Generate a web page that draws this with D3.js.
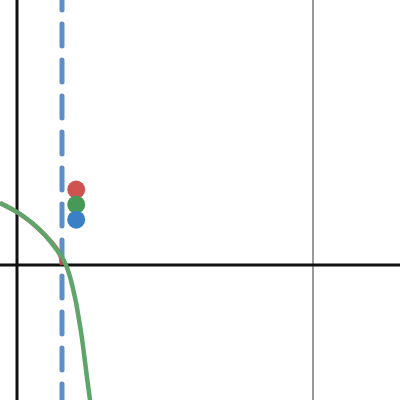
<!DOCTYPE html>
<html lang="en">
<head>
  <meta charset="UTF-8" />
  <title>Curve near asymptote</title>
  <script src="https://d3js.org/d3.v7.min.js"></script>
  <style>
    body { margin:0; padding:0; background:#fff; }
    svg { display:block; }
  </style>
</head>
<body>
  <svg width="400" height="400"></svg>
  <script>
  // green curve (math units)
  const greenX = [-0.574, 0.101, 0.777, 1.115, 1.318, 1.52, 1.655, 1.791, 1.902, 2.01, 2.095, 2.179, 2.247, 2.375, 2.466, 2.5];
  const greenY = [2.095, 1.723, 1.182, 0.811, 0.541, 0.27, 0, -0.405, -0.845, -1.351, -1.858, -2.365, -2.872, -3.885, -4.561, -4.83];

  // red curve, ends on the x axis at the asymptote
  const redX = [-0.574, 0.101, 0.777, 1.115, 1.284, 1.402, 1.477, 1.51, 1.52];
  const redY = [2.095, 1.723, 1.182, 0.828, 0.625, 0.439, 0.27, 0.135, 0];

  const asymptoteX = 1.52;
  const gridX = 10;

  const dotX = [2.0, 2.0, 2.0];
  const dotY = [2.55, 2.04, 1.53];
  const dotColors = ['#cf5350', '#479a56', '#3b7fc4'];

  const W = 400, H = 400;
  const svg = d3.select('svg');

  const x = d3.scaleLinear().domain([-0.5743, 12.939]).range([0, W]);
  const y = d3.scaleLinear().domain([-4.561, 8.953]).range([H, 0]);

  // gray grid line
  svg.append('line')
    .attr('x1', x(gridX)).attr('x2', x(gridX))
    .attr('y1', 0).attr('y2', H)
    .attr('stroke', '#9a9a9a').attr('stroke-width', 2);

  // axes
  svg.append('line')
    .attr('x1', x(0)).attr('x2', x(0))
    .attr('y1', 0).attr('y2', H)
    .attr('stroke', '#111').attr('stroke-width', 3);
  svg.append('line')
    .attr('x1', 0).attr('x2', W)
    .attr('y1', y(0)).attr('y2', y(0))
    .attr('stroke', '#111').attr('stroke-width', 3);

  // dashed asymptote
  svg.append('line')
    .attr('x1', x(asymptoteX)).attr('x2', x(asymptoteX))
    .attr('y1', 0).attr('y2', H)
    .attr('stroke', '#5b90c8').attr('stroke-width', 5)
    .attr('stroke-linecap', 'round')
    .attr('stroke-dasharray', '22 14')
    .attr('stroke-dashoffset', 12);

  const line = d3.line()
    .x(d => x(d[0]))
    .y(d => y(d[1]))
    .curve(d3.curveMonotoneX);

  svg.append('path')
    .datum(d3.zip(redX, redY))
    .attr('d', line)
    .attr('fill', 'none')
    .attr('stroke', '#c74440').attr('stroke-width', 4.5)
    .attr('stroke-opacity', 0.85);

  svg.append('path')
    .datum(d3.zip(greenX, greenY))
    .attr('d', line)
    .attr('fill', 'none')
    .attr('stroke', '#5ea56b').attr('stroke-width', 4.5);

  // dots
  svg.selectAll('.dot').data(d3.range(dotX.length)).enter().append('circle')
    .attr('class', 'dot')
    .attr('cx', i => x(dotX[i]))
    .attr('cy', i => y(dotY[i]))
    .attr('r', 9)
    .attr('fill', i => dotColors[i]);
  </script>
</body>
</html>
